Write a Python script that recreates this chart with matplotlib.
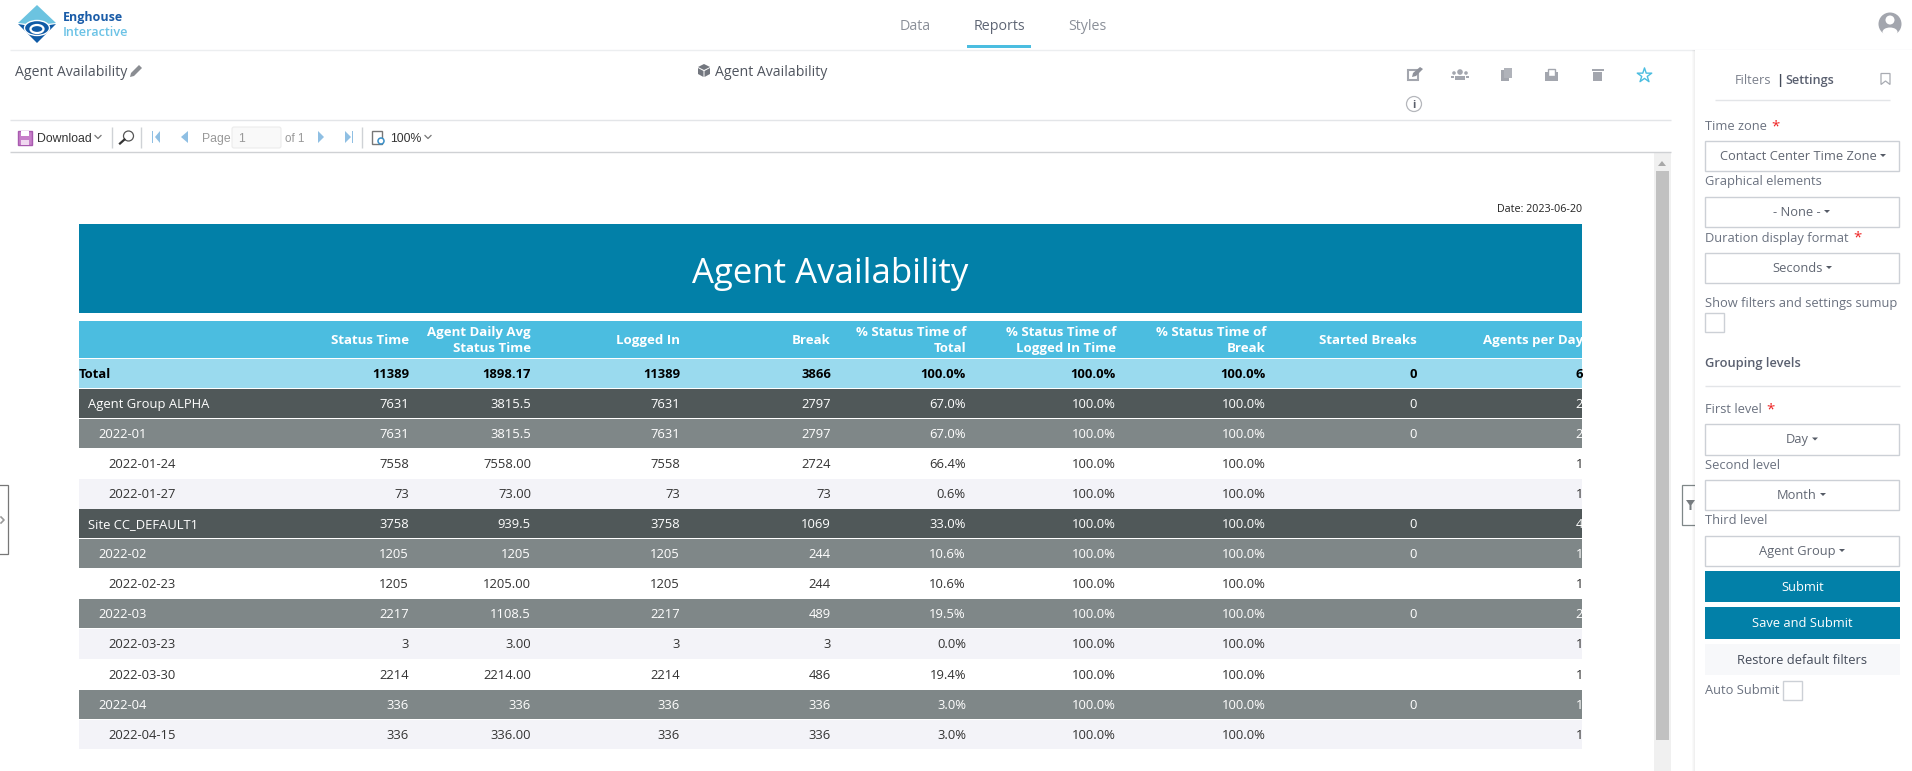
import matplotlib
matplotlib.use("Agg")
import matplotlib.pyplot as plt
from matplotlib.patches import Rectangle, Polygon, Circle, Ellipse, FancyBboxPatch

plt.rcParams['font.family'] = ['Open Sans', 'DejaVu Sans']

# table data
row_labels = ["Total", "Agent Group ALPHA", "2022-01", "2022-01-24", "2022-01-27", "Site CC_DEFAULT1", "2022-02",
              "2022-02-23", "2022-03", "2022-03-23", "2022-03-30", "2022-04", "2022-04-15"]
row_kinds = ["total", "group", "month", "day", "alt", "group", "month", "day", "month", "alt", "day", "month", "alt"]
status_time = ["11389", "7631", "7631", "7558", "73", "3758", "1205", "1205", "2217", "3", "2214", "336", "336"]
daily_avg = ["1898.17", "3815.5", "3815.5", "7558.00", "73.00", "939.5", "1205", "1205.00", "1108.5", "3.00", "2214.00", "336", "336.00"]
logged_in = ["11389", "7631", "7631", "7558", "73", "3758", "1205", "1205", "2217", "3", "2214", "336", "336"]
break_time = ["3866", "2797", "2797", "2724", "73", "1069", "244", "244", "489", "3", "486", "336", "336"]
pct_total = ["100.0%", "67.0%", "67.0%", "66.4%", "0.6%", "33.0%", "10.6%", "10.6%", "19.5%", "0.0%", "19.4%", "3.0%", "3.0%"]
pct_logged = ["100.0%"] * 13
pct_break = ["100.0%"] * 13
started_breaks = ["0", "0", "0", "", "", "0", "0", "", "0", "", "", "0", ""]
agents_per_day = ["6", "2", "2", "1", "1", "4", "1", "1", "2", "1", "1", "1", "1"]
columns = [status_time, daily_avg, logged_in, break_time, pct_total, pct_logged, pct_break, started_breaks, agents_per_day]
headers = ["Status Time", "Agent Daily Avg\nStatus Time", "Logged In", "Break", "% Status Time of\nTotal",
           "% Status Time of\nLogged In Time", "% Status Time of\nBreak", "Started Breaks", "Agents per Day"]

# layout, in pixels of the screenshot
col_right = [409, 531, 680, 831, 966, 1116, 1266, 1417, 1583]
row_top = [359, 389, 419, 448, 479, 509, 539, 568, 599, 629, 659, 690, 720]
row_bot = [388, 418, 448, 479, 509, 538, 568, 599, 628, 659, 690, 719, 749]
row_fill = {"total": "#9adaee", "group": "#505859", "month": "#7f8788", "day": "#ffffff", "alt": "#f3f3f8"}
row_color = {"total": "#000000", "group": "#ffffff", "month": "#ffffff", "day": "#333333", "alt": "#333333"}
row_indent = {"total": 79, "group": 88, "month": 98.5, "day": 108.5, "alt": 108.5}

TEAL = "#0280a8"
SKY = "#4bbde0"
TXT = "#6b7280"
ICON = "#a3a6ae"
LINE = "#e3e5e8"

fig = plt.figure(figsize=(19.12, 7.71), dpi=100)
ax = fig.add_axes([0, 0, 1, 1])
ax.set_xlim(0, 1912)
ax.set_ylim(771, 0)
ax.axis("off")


def px(size):
    return size * 0.72


def box(x0, y0, x1, y1, fc="none", ec="none", lw=0, z=1):
    r = Rectangle((x0, y0), x1 - x0, y1 - y0, facecolor=fc, edgecolor=ec, linewidth=lw, zorder=z)
    ax.add_patch(r)
    return r


def label(x, y, s, size=13.0, color=TXT, ha="left", weight="normal", **kw):
    return ax.text(x, y, s, fontsize=px(size), color=color, ha=ha, va="center_baseline", weight=weight, zorder=5, **kw)


def hline(x0, x1, y, color=LINE, lw=1.0, z=2):
    ax.plot([x0, x1], [y, y], color=color, lw=lw, solid_capstyle="butt", zorder=z)


def vline(x, y0, y1, color="#cfd2d6", lw=1.0):
    ax.plot([x, x], [y0, y1], color=color, lw=lw, solid_capstyle="butt", zorder=2)


def poly(pts, color=ICON, z=4, **kw):
    ax.add_patch(Polygon(pts, closed=True, facecolor=color, zorder=z, **kw))


def chevron(x, y, color="#777777", s=3):
    ax.plot([x - s, x, x + s], [y - s / 2, y + s / 2, y - s / 2], color=color, lw=0.9, zorder=4)


def caret(x, y, color="#555b66"):
    poly([(x - 3, y - 1.5), (x + 3, y - 1.5), (x, y + 1.5)], color=color, z=7)


# header bar
poly([(37, 5), (56, 23), (37, 25), (18, 23)], color="#6cc3e0")
poly([(18, 24), (37, 27), (56, 24), (37, 43)], color="#0f5aa6")
ax.add_patch(Ellipse((37, 28), 25, 15, facecolor="#0f5aa6", edgecolor="white", lw=1.0, zorder=5))
ax.add_patch(Ellipse((37, 29), 13, 8, facecolor="none", edgecolor="white", lw=1.6, zorder=6))
ax.add_patch(Circle((38, 29), 2, facecolor="#0f5aa6", zorder=6))
label(63, 16, "Enghouse", size=12.5, color="#1a5ca8", weight="bold")
label(63, 31, "Interactive", size=12.6, color="#6cc3e6", weight="semibold")

for name, x, col in [("Data", 915, "#8b9099"), ("Reports", 999, "#5f6675"), ("Styles", 1087, "#8b9099")]:
    label(x, 25, name, size=14.2, color=col, ha="center")
box(967, 45, 1031, 48, fc=SKY, z=3)
hline(10, 1912, 49.5, color="#eceef0")

ax.add_patch(Circle((1890, 24), 11.5, facecolor="#a3a6ae", zorder=3))
ax.add_patch(Circle((1890, 20), 4.5, facecolor="white", zorder=4))
ax.add_patch(Ellipse((1890, 32), 15, 9, facecolor="white", zorder=4))

# title row
label(15, 71, "Agent Availability", size=14.1, color="#50555f")
poly([(130, 77), (131, 73), (139, 65), (142, 68), (134, 76)], color="#8a8d92")
poly([(698, 67), (704, 64), (710, 67), (704, 70)], color="#73777f")
poly([(698, 68), (703.5, 71), (703.5, 77), (698, 74)], color="#73777f")
poly([(710, 68), (704.5, 71), (704.5, 77), (710, 74)], color="#73777f")
label(715, 71, "Agent Availability", size=14.1, color="#50555f")

# action icons
box(1408, 70, 1418, 80, ec=ICON, lw=1.5, z=3)
poly([(1412, 77), (1413, 73), (1420, 67), (1423, 69), (1416, 76)], color="#8f929b")
for dx, dy, r in [(1460, 72, 2.8), (1454, 73, 1.8), (1466, 73, 1.8)]:
    ax.add_patch(Circle((dx, dy), r, facecolor=ICON, zorder=4))
box(1455, 75.5, 1465, 80, fc=ICON, z=4)
box(1451, 75.5, 1454, 78, fc=ICON, z=4)
box(1466, 75.5, 1469, 78, fc=ICON, z=4)
box(1501, 70, 1509, 81, fc=ICON, z=3)
box(1504, 68, 1512, 78, fc="#b0b3ba", z=3)
box(1545, 72, 1558, 81, fc=ICON, z=3)
box(1548, 69, 1555, 76, fc="white", ec=ICON, lw=1, z=4)
box(1592, 68.5, 1604, 70.5, fc=ICON, z=4)
box(1593.5, 71.5, 1602.5, 81, fc=ICON, z=4)
ax.scatter([1644.5], [75], marker="*", s=120, facecolor="white", edgecolor=SKY, linewidth=1.0, zorder=4)
ax.add_patch(Circle((1414, 104), 7.5, facecolor="white", edgecolor="#b5b7bc", lw=0.9, zorder=3))
label(1414, 104, "i", size=11, color="#5a5f6b", ha="center", weight="bold")

hline(10, 1671, 120)
hline(10, 1671, 152, color="#cfd1d4")

# report toolbar
box(18, 131, 32, 145, fc="#c77fc9", ec="#a85aaf", lw=1, z=3)
box(21, 131, 29, 136, fc="white", z=4)
box(21, 140, 29, 145, fc="#f0d8f0", z=4)
label(37, 137.5, "Download", size=12.2, color="#333333", family="Liberation Sans")
chevron(98, 137)
vline(112, 127, 148)
ax.add_patch(Circle((128.5, 136), 5, facecolor="white", edgecolor="#555555", lw=0.9, zorder=3))
ax.plot([120, 124.5], [143.5, 139.5], color="#333333", lw=1.6, zorder=3)
vline(141, 127, 148)
BLUE = "#8fbfe3"
box(152, 131, 153.5, 143, fc=BLUE, z=3)
poly([(155, 137), (160, 131), (160, 143)], color=BLUE)
poly([(181, 137), (188, 131), (188, 143)], color=BLUE)
label(202, 137.5, "Page", size=12.2, color="#999999", family="Liberation Sans")
ax.add_patch(FancyBboxPatch((232, 127), 49, 21, boxstyle="round,pad=0,rounding_size=2", facecolor="#f9f9f9",
                            edgecolor="#ececec", lw=0.8, zorder=3))
label(238, 137, "1", size=12.2, color="#999999", family="Liberation Sans")
label(285, 137.5, "of 1", size=11.6, color="#999999", family="Liberation Sans")
poly([(324, 137), (318, 131), (318, 143)], color=BLUE)
poly([(351, 137), (345, 131), (345, 143)], color=BLUE)
box(352, 131, 353.5, 143, fc=BLUE, z=3)
vline(362, 127, 148)
box(372, 131, 382, 144, fc="white", ec="#777777", lw=1, z=3)
ax.add_patch(Circle((381, 141), 3, facecolor="white", edgecolor="#3a8fc7", lw=1.1, zorder=4))
label(390, 137.5, "100%", size=12.2, color="#333333", family="Liberation Sans")
chevron(428, 137)

# report header
label(1582, 208, "Date: 2023-06-20", size=10.8, color="#222222", ha="right")
box(79, 224, 1582, 313, fc=TEAL)
label(830.5, 270, "Agent Availability", size=34.8, color="white", ha="center")
box(79, 321, 1582, 358, fc=SKY)
clip = Rectangle((79, 315), 1503, 440, transform=ax.transData)
for right, head in zip(col_right, headers):
    for k, part in enumerate(head.split("\n")):
        y = 339 if "\n" not in head else 331 + 16 * k
        t = label(right, y, part, size=13.3, color="white", ha="right", weight="bold")
        t.set_clip_path(clip)

# table rows
for i, (name, kind) in enumerate(zip(row_labels, row_kinds)):
    box(79, row_top[i], 1582, row_bot[i], fc=row_fill[kind])
    yc = (row_top[i] + row_bot[i]) / 2 - 0.5
    weight = "bold" if kind == "total" else "normal"
    label(row_indent[kind], yc, name, color=row_color[kind], weight=weight)
    for right, col in zip(col_right, columns):
        if col[i]:
            t = label(right, yc, col[i], color=row_color[kind], ha="right", weight=weight)
            t.set_clip_path(clip)

# scrollbar
box(1654, 153, 1671, 771, fc="#f0f0f0")
box(1656, 171, 1669, 740, fc="#c1c1c1", z=2)
poly([(1658, 166), (1666, 166), (1662, 161)], color="#a8a8a8")

# collapse handles
box(-2, 485, 8.5, 554, fc="white", ec="#777777", lw=0.9, z=3)
ax.plot([1, 4, 1], [517, 520, 523], color="#999999", lw=1.2, zorder=4)
box(1682.5, 485, 1700, 524.5, fc="white", ec="#7f8788", lw=0.9, z=3)
poly([(1686, 500), (1695, 500), (1691.5, 505), (1691.5, 510), (1689.5, 510), (1689.5, 505)], color="#777c80")

# settings side panel
box(1695, 50, 1912, 771, fc="white", z=4)
for k, alpha in enumerate([0.02, 0.04, 0.06]):
    box(1692 + k, 50, 1693 + k, 771, fc="#000000", z=3).set_alpha(alpha)


def side(x, y, s, size=12.9, color=TXT, ha="left", weight="normal"):
    t = label(x, y, s, size=size, color=color, ha=ha, weight=weight)
    t.set_zorder(7)
    return t


def field(y0, y1, s, cx):
    box(1705.5, y0, 1899.5, y1, fc="white", ec="#ccd0d6", lw=1, z=5)
    side(cx, (y0 + y1) / 2 - 0.5, s, ha="right", color="#616773")
    caret(cx + 6, (y0 + y1) / 2)


def req(x, y):
    side(x, y + 1, "*", color="#ee2222", size=15)


side(1735, 79, "Filters", color="#7b808c")
side(1776, 79, "|", color="#444b59", weight="bold")
side(1785, 79, "Settings", color="#5a6070", weight="semibold", size=12.6)
poly([(1881, 73.5), (1881, 84.5), (1885.5, 81), (1890, 84.5), (1890, 73.5)], color="white", z=7,
     edgecolor="#a8abb2", linewidth=0.9)
hline(1715, 1890, 100, z=6)

side(1705, 125.5, "Time zone")
req(1771, 124)
field(140.5, 170.5, "Contact Center Time Zone", 1877)
side(1705, 180, "Graphical elements")
field(196.5, 226.5, "- None -", 1821)
side(1705, 237, "Duration display format")
req(1853, 235)
field(252.5, 282.5, "Seconds", 1823)
side(1705, 301.5, "Show filters and settings sumup")
box(1705.5, 312.5, 1724.5, 331.5, fc="white", ec="#ccd0d6", lw=1, z=5)
side(1705, 362, "Grouping levels", color="#5a6070", weight="semibold")
hline(1705, 1900, 385.5, z=6)
side(1705, 408, "First level")
req(1766, 407)
field(423.5, 454.5, "Day", 1809)
side(1705, 464, "Second level")
field(479.5, 509.5, "Month", 1817)
side(1705, 519, "Third level")
field(535.5, 565.5, "Agent Group", 1836)
box(1705, 571, 1900, 602, fc=TEAL, z=5)
side(1802.5, 586, "Submit", color="white", ha="center")
box(1705, 607, 1900, 639, fc=TEAL, z=5)
side(1802.5, 622, "Save and Submit", color="white", ha="center")
box(1705, 644, 1900, 675, fc="#f7f8fa", z=5)
side(1802.5, 658.5, "Restore default filters", color="#444b59", ha="center")
side(1705, 689, "Auto Submit")
box(1783.5, 680.5, 1802.5, 699.5, fc="white", ec="#ccd0d6", lw=1, z=5)

fig.savefig("out.png", dpi=100)
